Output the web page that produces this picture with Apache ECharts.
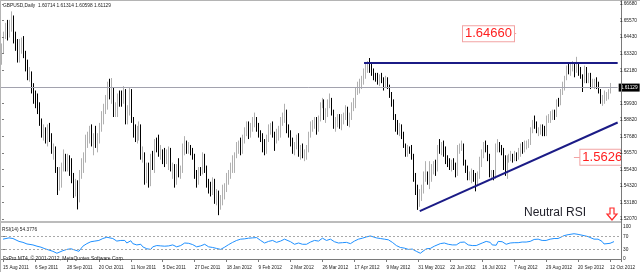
<!DOCTYPE html>
<html><head><meta charset="utf-8">
<script src="https://cdn.jsdelivr.net/npm/echarts@6/dist/echarts.min.js"></script>
<style>html,body{margin:0;padding:0;background:#fff}#c{width:640px;height:272px}</style>
</head><body><div id="c"></div>
<script>
// ---------------- data ----------------
const headerText = 'GBPUSD,Daily  1.60714 1.61314 1.60598 1.61129';
const rsiText = 'RSI(14) 54.3776';
const footerText = 'FxPro MT4, \u00a9 2001-2012, MetaQuotes Software Corp.';
const noteText = 'Neutral RSI';
const dateTickIdx = [0,16,32,48,64,80,96,112,128,144,160,176,192,208,224,240,256,272,288,304];
const dateTickLabels = ['15 Aug 2011','6 Sep 2011','28 Sep 2011','20 Oct 2011','11 Nov 2011','5 Dec 2011','27 Dec 2011','18 Jan 2012','9 Feb 2012','2 Mar 2012','26 Mar 2012','17 Apr 2012','9 May 2012','31 May 2012','22 Jun 2012','16 Jul 2012','7 Aug 2012','29 Aug 2012','20 Sep 2012','12 Oct 2012'];
const priceTicks = [1.6668,1.6557,1.6443,1.6332,1.6218,1.5993,1.5882,1.5768,1.5657,1.5543,1.5432,1.5318,1.5207];
const rsiTicks = [100,70,30,0];
const bidPrice = 1.61129;
const calloutHigh = 1.64660;
const calloutLow = 1.56263;
const resistanceLine = [[182,1.6270],[309.5,1.6270]];
const supportLine = [[210,1.5261],[309.5,1.5863]];

// daily bars: [open, close, low, high]
const ohlc2011 = [
[1.6290,1.6350,1.6255,1.6400],[1.6350,1.6460,1.6330,1.6480],[1.6460,1.6500,1.6430,1.6540],[1.6500,1.6480,1.6420,1.6560],[1.6480,1.6500,1.6440,1.6560],
[1.6500,1.6520,1.6480,1.6618],[1.6520,1.6440,1.6400,1.6590],[1.6440,1.6380,1.6350,1.6480],[1.6380,1.6290,1.6270,1.6430],[1.6290,1.6390,1.6270,1.6430],
[1.6390,1.6410,1.6330,1.6440],[1.6410,1.6330,1.6300,1.6450],[1.6330,1.6260,1.6210,1.6350],[1.6260,1.6170,1.6150,1.6290],[1.6170,1.6200,1.6140,1.6240],
[1.6200,1.6100,1.6060,1.6210],[1.6100,1.6050,1.5990,1.6130],[1.6050,1.5990,1.5960,1.6080],[1.5990,1.5960,1.5920,1.6060],[1.5960,1.5870,1.5840,1.6000],
[1.5870,1.5790,1.5760,1.5890],[1.5790,1.5800,1.5740,1.5850],[1.5800,1.5760,1.5720,1.5830],[1.5760,1.5810,1.5700,1.5850],[1.5810,1.5780,1.5730,1.5860],
[1.5780,1.5660,1.5650,1.5790],[1.5660,1.5680,1.5610,1.5720],[1.5680,1.5540,1.5520,1.5700],[1.5540,1.5440,1.5370,1.5560],[1.5440,1.5490,1.5400,1.5560],
[1.5490,1.5560,1.5420,1.5590],[1.5560,1.5600,1.5530,1.5680],[1.5600,1.5580,1.5530,1.5650],[1.5580,1.5600,1.5530,1.5650],[1.5600,1.5590,1.5500,1.5640],
[1.5590,1.5500,1.5450,1.5620],[1.5500,1.5410,1.5350,1.5520],[1.5410,1.5450,1.5360,1.5480],[1.5450,1.5350,1.5272,1.5470],[1.5350,1.5500,1.5320,1.5540],
[1.5500,1.5570,1.5480,1.5620],[1.5570,1.5600,1.5520,1.5660],[1.5600,1.5750,1.5590,1.5780],[1.5750,1.5770,1.5690,1.5800],[1.5770,1.5790,1.5720,1.5840],
[1.5790,1.5740,1.5700,1.5850],[1.5740,1.5750,1.5640,1.5790],[1.5750,1.5730,1.5690,1.5840],[1.5730,1.5740,1.5660,1.5790],[1.5740,1.5830,1.5720,1.5860],
[1.5830,1.5910,1.5800,1.5940],[1.5910,1.5960,1.5850,1.5990],[1.5960,1.6020,1.5920,1.6050],[1.6020,1.6120,1.5950,1.6140],[1.6120,1.6070,1.6020,1.6160],
[1.6070,1.6080,1.5990,1.6165],[1.6080,1.5950,1.5900,1.6100],[1.5950,1.5980,1.5900,1.6000],[1.5980,1.6030,1.5900,1.6060],[1.6030,1.6020,1.5970,1.6080],
[1.6020,1.6010,1.5970,1.6080],[1.6010,1.6060,1.5990,1.6110],[1.6060,1.5880,1.5850,1.6090],[1.5880,1.5930,1.5850,1.5980],[1.5930,1.6080,1.5910,1.6100],
[1.6080,1.5880,1.5860,1.6090],[1.5880,1.5810,1.5760,1.5900],[1.5810,1.5770,1.5730,1.5850],[1.5770,1.5810,1.5720,1.5840],[1.5810,1.5840,1.5740,1.5870],
[1.5840,1.5630,1.5610,1.5850],[1.5630,1.5640,1.5590,1.5700],[1.5640,1.5470,1.5440,1.5660],[1.5470,1.5570,1.5450,1.5590],[1.5570,1.5440,1.5420,1.5590],
[1.5440,1.5620,1.5430,1.5650],[1.5620,1.5610,1.5540,1.5670],[1.5610,1.5720,1.5520,1.5750],[1.5720,1.5690,1.5660,1.5760],[1.5690,1.5650,1.5630,1.5780],
[1.5650,1.5670,1.5610,1.5710],[1.5670,1.5640,1.5580,1.5680],[1.5640,1.5600,1.5560,1.5690],[1.5600,1.5630,1.5580,1.5680],[1.5630,1.5680,1.5540,1.5700],
[1.5680,1.5540,1.5530,1.5690],[1.5540,1.5560,1.5480,1.5590],[1.5560,1.5470,1.5420,1.5580],[1.5470,1.5560,1.5440,1.5580],[1.5560,1.5520,1.5490,1.5620],
[1.5520,1.5540,1.5480,1.5570],[1.5540,1.5700,1.5520,1.5720],[1.5695,1.5705,1.5640,1.5770],[1.5705,1.5690,1.5650,1.5740],[1.5690,1.5700,1.5650,1.5730],
[1.5700,1.5660,1.5640,1.5710],[1.5660,1.5630,1.5610,1.5690],[1.5630,1.5500,1.5480,1.5650],[1.5500,1.5460,1.5420,1.5540],[1.5460,1.5540,1.5440,1.5560]
];
const ohlc2012 = [
[1.5540,1.5530,1.5500,1.5560],[1.5530,1.5640,1.5510,1.5660],[1.5640,1.5550,1.5520,1.5650],[1.5550,1.5450,1.5420,1.5570],[1.5450,1.5420,1.5380,1.5480],
[1.5420,1.5390,1.5360,1.5460],[1.5390,1.5470,1.5370,1.5490],[1.5470,1.5340,1.5310,1.5480],[1.5340,1.5380,1.5300,1.5410],[1.5380,1.5300,1.5233,1.5400],
[1.5300,1.5340,1.5270,1.5370],[1.5340,1.5390,1.5300,1.5440],[1.5390,1.5420,1.5340,1.5450],[1.5420,1.5470,1.5390,1.5520],[1.5470,1.5500,1.5440,1.5540],
[1.5500,1.5550,1.5480,1.5590],[1.5550,1.5600,1.5520,1.5640],[1.5600,1.5640,1.5520,1.5660],[1.5640,1.5690,1.5620,1.5730],[1.5690,1.5720,1.5650,1.5740],
[1.5720,1.5680,1.5640,1.5760],[1.5680,1.5750,1.5650,1.5780],[1.5750,1.5800,1.5720,1.5830],[1.5800,1.5830,1.5770,1.5870],[1.5830,1.5800,1.5750,1.5870],
[1.5800,1.5840,1.5760,1.5860],[1.5840,1.5870,1.5800,1.5900],[1.5870,1.5880,1.5830,1.5930],[1.5880,1.5830,1.5800,1.5900],[1.5830,1.5780,1.5760,1.5860],
[1.5780,1.5770,1.5730,1.5810],[1.5770,1.5680,1.5660,1.5790],[1.5680,1.5670,1.5640,1.5750],[1.5670,1.5750,1.5650,1.5780],[1.5750,1.5800,1.5730,1.5850],
[1.5800,1.5830,1.5780,1.5860],[1.5830,1.5780,1.5760,1.5870],[1.5780,1.5730,1.5670,1.5800],[1.5730,1.5790,1.5720,1.5820],[1.5790,1.5800,1.5740,1.5840],
[1.5800,1.5880,1.5760,1.5900],[1.5880,1.5900,1.5840,1.5930],[1.5900,1.5910,1.5860,1.5990],[1.5910,1.5820,1.5790,1.5950],[1.5820,1.5780,1.5760,1.5850],
[1.5780,1.5730,1.5700,1.5810],[1.5730,1.5660,1.5650,1.5760],[1.5660,1.5700,1.5640,1.5730],[1.5700,1.5720,1.5680,1.5780],[1.5720,1.5650,1.5630,1.5790],
[1.5650,1.5670,1.5610,1.5710],[1.5670,1.5640,1.5620,1.5720],[1.5640,1.5650,1.5600,1.5680],[1.5650,1.5690,1.5610,1.5710],[1.5690,1.5770,1.5660,1.5800],
[1.5770,1.5830,1.5760,1.5870],[1.5830,1.5860,1.5800,1.5880],[1.5860,1.5880,1.5820,1.5900],[1.5880,1.5810,1.5780,1.5900],[1.5810,1.5890,1.5800,1.5910],
[1.5890,1.5990,1.5870,1.6000],[1.5990,1.6000,1.5960,1.6030],[1.6000,1.5910,1.5880,1.6020],[1.5910,1.5920,1.5860,1.5960],[1.5920,1.6000,1.5900,1.6020],
[1.6000,1.6010,1.5960,1.6060],[1.6010,1.5930,1.5910,1.6030],[1.5930,1.5850,1.5820,1.5950],[1.5850,1.5860,1.5800,1.5900],[1.5860,1.5880,1.5830,1.5920],
[1.5880,1.5870,1.5820,1.5920],[1.5870,1.5890,1.5810,1.5920],[1.5890,1.5900,1.5850,1.5930],[1.5900,1.5950,1.5880,1.5980],[1.5950,1.5860,1.5840,1.5970],
[1.5860,1.5910,1.5830,1.5930],[1.5910,1.5980,1.5880,1.6000],[1.5975,1.5985,1.5940,1.6030],[1.5985,1.6080,1.5960,1.6100],[1.6080,1.6110,1.6050,1.6140],
[1.6110,1.6130,1.6060,1.6160],[1.6130,1.6150,1.6090,1.6180],[1.6150,1.6200,1.6120,1.6230],[1.6200,1.6230,1.6160,1.6260],[1.6230,1.6260,1.6200,1.6280],
[1.6260,1.6240,1.6200,1.6301],[1.6240,1.6210,1.6180,1.6270],[1.6210,1.6170,1.6150,1.6230],[1.6175,1.6165,1.6140,1.6200],[1.6165,1.6150,1.6120,1.6200],
[1.6150,1.6160,1.6110,1.6190],[1.6160,1.6155,1.6130,1.6200],[1.6155,1.6130,1.6080,1.6170],[1.6130,1.6150,1.6100,1.6180],[1.6150,1.6100,1.6090,1.6170],
[1.6100,1.6050,1.6030,1.6120],[1.6050,1.6000,1.5970,1.6070],[1.6000,1.5900,1.5880,1.6020],[1.5900,1.5830,1.5800,1.5920],[1.5830,1.5810,1.5780,1.5880],
[1.5810,1.5830,1.5770,1.5860],[1.5830,1.5780,1.5750,1.5850],[1.5780,1.5700,1.5690,1.5800],[1.5700,1.5650,1.5630,1.5720],[1.5650,1.5670,1.5630,1.5710],
[1.5670,1.5660,1.5650,1.5700],[1.5660,1.5630,1.5610,1.5710],[1.5630,1.5480,1.5460,1.5650],[1.5480,1.5420,1.5370,1.5520],[1.5420,1.5350,1.5269,1.5440],
[1.5350,1.5380,1.5290,1.5410],[1.5380,1.5400,1.5330,1.5440],[1.5400,1.5500,1.5380,1.5530],[1.5500,1.5505,1.5460,1.5600],[1.5505,1.5460,1.5440,1.5530],
[1.5460,1.5490,1.5410,1.5600],[1.5490,1.5550,1.5460,1.5580],[1.5550,1.5560,1.5510,1.5600],[1.5560,1.5550,1.5500,1.5610],[1.5550,1.5690,1.5530,1.5710],
[1.5690,1.5685,1.5650,1.5750],[1.5685,1.5700,1.5640,1.5730],[1.5700,1.5680,1.5630,1.5740],[1.5680,1.5610,1.5580,1.5700],[1.5610,1.5580,1.5560,1.5640],
[1.5580,1.5570,1.5540,1.5620],[1.5570,1.5580,1.5530,1.5610],[1.5580,1.5570,1.5540,1.5620],[1.5570,1.5530,1.5490,1.5590],[1.5530,1.5690,1.5500,1.5710],
[1.5690,1.5695,1.5650,1.5720],[1.5695,1.5710,1.5670,1.5740],[1.5710,1.5590,1.5570,1.5720],[1.5590,1.5540,1.5520,1.5610],[1.5540,1.5490,1.5470,1.5570],
[1.5490,1.5500,1.5470,1.5530],[1.5500,1.5520,1.5450,1.5550],[1.5520,1.5510,1.5460,1.5540],[1.5510,1.5460,1.5395,1.5520],[1.5460,1.5500,1.5430,1.5530],
[1.5500,1.5610,1.5480,1.5630],[1.5610,1.5640,1.5560,1.5680],[1.5640,1.5700,1.5620,1.5730],[1.5700,1.5695,1.5660,1.5740],[1.5695,1.5640,1.5600,1.5710],
[1.5640,1.5500,1.5490,1.5650],[1.5500,1.5505,1.5470,1.5540],[1.5505,1.5490,1.5470,1.5540],[1.5490,1.5700,1.5480,1.5720],[1.5700,1.5705,1.5660,1.5750],
[1.5705,1.5680,1.5660,1.5730],[1.5680,1.5675,1.5640,1.5710],[1.5675,1.5560,1.5540,1.5690],[1.5560,1.5530,1.5500,1.5640],[1.5530,1.5620,1.5480,1.5640],
[1.5620,1.5625,1.5590,1.5650],[1.5625,1.5640,1.5600,1.5670],[1.5640,1.5620,1.5590,1.5650],[1.5620,1.5640,1.5600,1.5670],[1.5640,1.5635,1.5600,1.5660],
[1.5635,1.5660,1.5610,1.5690],[1.5660,1.5700,1.5630,1.5720],[1.5700,1.5670,1.5650,1.5730],[1.5670,1.5710,1.5660,1.5740],[1.5710,1.5720,1.5680,1.5740],
[1.5720,1.5725,1.5690,1.5750],[1.5725,1.5810,1.5710,1.5830],[1.5810,1.5860,1.5790,1.5880],[1.5860,1.5850,1.5820,1.5910],[1.5850,1.5800,1.5790,1.5870],
[1.5800,1.5810,1.5770,1.5830],[1.5810,1.5830,1.5780,1.5850],[1.5830,1.5820,1.5770,1.5850],[1.5820,1.5790,1.5770,1.5840],[1.5790,1.5880,1.5770,1.5910],
[1.5880,1.5900,1.5860,1.5920],[1.5900,1.5910,1.5860,1.5940],[1.5910,1.5930,1.5880,1.5950],[1.5930,1.5910,1.5880,1.5950],[1.5910,1.6000,1.5900,1.6020],
[1.6000,1.5990,1.5970,1.6030],[1.5990,1.6070,1.5980,1.6090],[1.6070,1.6110,1.6050,1.6140],[1.6110,1.6160,1.6080,1.6180],[1.6160,1.6230,1.6150,1.6250],
[1.6230,1.6225,1.6190,1.6270],[1.6225,1.6250,1.6180,1.6270],[1.6250,1.6255,1.6210,1.6280],[1.6255,1.6230,1.6170,1.6270],[1.6230,1.6235,1.6200,1.6309],
[1.6235,1.6200,1.6180,1.6260],[1.6200,1.6180,1.6160,1.6240],[1.6180,1.6150,1.6070,1.6190],[1.6150,1.6230,1.6130,1.6250],[1.6230,1.6160,1.6130,1.6240],
[1.6160,1.6165,1.6130,1.6200],[1.6165,1.6120,1.6090,1.6200],[1.6120,1.6125,1.6100,1.6160],[1.6125,1.6130,1.6090,1.6160],[1.6130,1.6120,1.6090,1.6170],
[1.6120,1.6070,1.6060,1.6140],[1.6070,1.6010,1.5990,1.6090],[1.6010,1.6030,1.5976,1.6050],[1.6030,1.6040,1.5990,1.6080],[1.6040,1.6050,1.6010,1.6070],
[1.6050,1.6071,1.6020,1.6090],[1.60714,1.61129,1.60598,1.61314]
];

// RSI(14): bar index and value
const rsiIdx = [0,3,5,8,10,12,15,17,19,21,23,25,27,28,30,32,34,36,38,40,42,44,46,48,50,52,53,55,57,59,61,62,64,65,67,69,70,72,74,75,77,79,81,83,85,87,89,91,93,95,97,99,101,103,105,107,109,111,113,115,117,119,121,123,125,127,129,131,133,135,137,139,141,142,144,146,148,150,152,154,156,158,160,162,164,166,168,170,172,174,176,178,180,182,184,185,187,189,191,193,195,197,199,201,203,205,207,209,210,212,214,216,219,221,223,225,227,229,231,233,235,237,238,240,242,244,245,247,248,250,252,254,256,258,260,262,264,266,268,270,272,274,276,278,279,281,283,284,286,288,289,291,292,293,294,296,298,300,301,302,304,305,306];
const rsiVal = [62,66,64,55,52,47,44,40,37,32,28,24,18,16,26,30,32,28,24,40,48,54,56,58,64,68,70,64,56,58,58,50,57,48,44,46,38,32,30,38,42,41,40,41,44,38,42,50,49,45,38,41,46,38,36,33,30,37,45,52,58,62,63,65,66,67,58,50,55,58,52,56,62,63,54,46,50,46,46,53,58,56,65,58,62,54,50,51,52,48,56,62,65,69,72,70,66,64,62,60,52,42,36,34,30,31,24,18,22,32,33,40,48,50,46,44,44,52,53,44,42,42,38,50,55,52,44,43,55,54,46,50,51,51,53,53,55,61,62,58,58,62,64,64,69,73,76,79,79,77,78,73,67,70,66,62,62,55,47,48,49,51,54.38];

// ---------------- chart ----------------
const FONT = '"Liberation Sans", Arial, sans-serif';
const Y_MIN = 1.51866, Y_MAX = 1.66884;
const X_MIN = -1, X_MAX = 309.5;
const bars = ohlc2011.concat(ohlc2012).map((r, i) => [i, r[0], r[1], r[2], r[3]]);
const rsi = rsiIdx.map((x, k) => [x, rsiVal[k]]);
const navy = '#1b1b86';
const pink = '#f2a3a3';

const chart = echarts.init(document.getElementById('c'), null, {renderer: 'canvas', width: 640, height: 272});
const calloutLabel = (txt) => ({show: true, position: 'right', distance: 0, formatter: txt, color: '#ff1f1f',
  fontSize: 13, fontFamily: FONT, lineHeight: 13, padding: [1, 2, 1, 2], borderColor: pink, borderWidth: 1, backgroundColor: '#fff'});

chart.setOption({
  animation: false,
  backgroundColor: '#fff',
  grid: [{left: 0, top: 1, width: 621, height: 221}, {left: 0, top: 227, width: 621, height: 32}],
  xAxis: [
    {type: 'value', gridIndex: 0, min: X_MIN, max: X_MAX, show: false},
    {type: 'value', gridIndex: 1, min: X_MIN, max: X_MAX, offset: 3,
      axisLine: {show: true, lineStyle: {color: '#7a7a7a'}},
      axisTick: {show: true, length: 3, customValues: dateTickIdx, lineStyle: {color: '#7a7a7a'}},
      axisLabel: {customValues: dateTickIdx, formatter: (v) => dateTickLabels[dateTickIdx.indexOf(Math.round(v))] || '',
        align: 'left', fontSize: 4.6, color: '#222', margin: 3, fontFamily: FONT, hideOverlap: false},
      splitLine: {show: false}}
  ],
  yAxis: [
    {type: 'value', gridIndex: 0, position: 'right', min: Y_MIN, max: Y_MAX, z: 60,
      axisLine: {show: false},
      axisTick: {show: true, length: 2, customValues: priceTicks, lineStyle: {color: '#7a7a7a'}},
      axisLabel: {customValues: priceTicks, formatter: (v) => v.toFixed(5), fontSize: 4.8, color: '#222', margin: 2, fontFamily: FONT},
      splitLine: {show: false}},
    {type: 'value', gridIndex: 1, position: 'right', min: 0, max: 100, z: 60,
      axisLine: {show: false},
      axisTick: {show: true, length: 2, customValues: rsiTicks, lineStyle: {color: '#7a7a7a'}},
      axisLabel: {customValues: rsiTicks, formatter: (v) => String(v), fontSize: 4.8, color: '#222', margin: 2, fontFamily: FONT},
      splitLine: {show: false}}
  ],
  series: [
    {type: 'candlestick', xAxisIndex: 0, yAxisIndex: 0, data: bars, barWidth: 0.6, z: 3,
      itemStyle: {color: '#c6c6c6', color0: '#000', borderColor: '#b0b0b0', borderColor0: '#000', borderWidth: 1},
      markLine: {silent: true, symbol: ['none', 'none'], animation: false, label: {show: false},
        data: [
          [{coord: resistanceLine[0], lineStyle: {color: navy, width: 2, type: 'solid'}}, {coord: resistanceLine[1]}],
          [{coord: supportLine[0], lineStyle: {color: navy, width: 2, type: 'solid'}}, {coord: supportLine[1]}],
          [{coord: [256.5, calloutHigh], lineStyle: {color: pink, width: 1, type: 'solid'}}, {coord: [258.5, calloutHigh]}],
          [{coord: [287.5, calloutLow], lineStyle: {color: pink, width: 1, type: 'solid'}}, {coord: [290.5, calloutLow]}],
          {yAxis: bidPrice, lineStyle: {color: '#a2a2ae', width: 1, type: 'solid'},
            label: {show: true, position: 'end', distance: 1, formatter: bidPrice.toFixed(5), backgroundColor: '#000', color: '#fff',
              fontSize: 4.8, fontFamily: FONT, padding: [1.5, 2, 1.5, 2]}}
        ]},
      markPoint: {silent: true, animation: false, symbol: 'rect', symbolSize: 1, itemStyle: {color: 'rgba(0,0,0,0)'},
        data: [
          {coord: [231.5, calloutHigh], label: calloutLabel(calloutHigh.toFixed(5))},
          {coord: [290.5, calloutLow], label: calloutLabel(calloutLow.toFixed(5))}
        ]}
    },
    {type: 'line', xAxisIndex: 1, yAxisIndex: 1, data: rsi, showSymbol: false, silent: true,
      lineStyle: {color: '#1e90ff', width: 1},
      markLine: {silent: true, symbol: ['none', 'none'], label: {show: false},
        lineStyle: {color: '#a8a8a8', width: 1, type: [2, 2]},
        data: [{yAxis: 70}, {yAxis: 30}]}}
  ],
  graphic: [
    {type: 'line', z: 40, shape: {x1: 0, y1: 0.5, x2: 640, y2: 0.5}, style: {stroke: '#b4b4b4', lineWidth: 1}},
    {type: 'line', z: 40, shape: {x1: 0.5, y1: 0, x2: 0.5, y2: 272}, style: {stroke: '#b4b4b4', lineWidth: 1}},
    {type: 'rect', z: 40, shape: {x: 0, y: 221, width: 621, height: 2}, style: {fill: '#bcbcbc'}},
    {type: 'rect', z: 50, shape: {x: 621.6, y: 148, width: 18.4, height: 18}, style: {fill: '#fff'}},
    {type: 'line', z: 55, shape: {x1: 621.5, y1: 0, x2: 621.5, y2: 262}, style: {stroke: '#7a7a7a', lineWidth: 1}},
    {type: 'text', z: 55, x: 3, y: 5.5, style: {text: headerText, fill: '#222', fontSize: 4.8, fontFamily: FONT, textVerticalAlign: 'middle'}},
    {type: 'text', z: 55, x: 2, y: 229.5, style: {text: rsiText, fill: '#222', fontSize: 4.8, fontFamily: FONT, textVerticalAlign: 'middle'}},
    {type: 'text', z: 55, x: 3, y: 258.5, style: {text: footerText, fill: '#222', fontSize: 5, fontFamily: FONT, textVerticalAlign: 'middle'}},
    {type: 'text', z: 55, x: 524, y: 213, style: {text: noteText, fill: '#1e1e28', fontSize: 12, fontFamily: FONT, textVerticalAlign: 'middle'}},
    {type: 'polygon', z: 55, shape: {points: [[610, 208], [614, 208], [614, 214], [617, 214], [612, 220], [607, 214], [610, 214]]},
      style: {fill: '#fff', stroke: '#ff2a2a', lineWidth: 1.2}}
  ]
});
</script>
</body></html>
